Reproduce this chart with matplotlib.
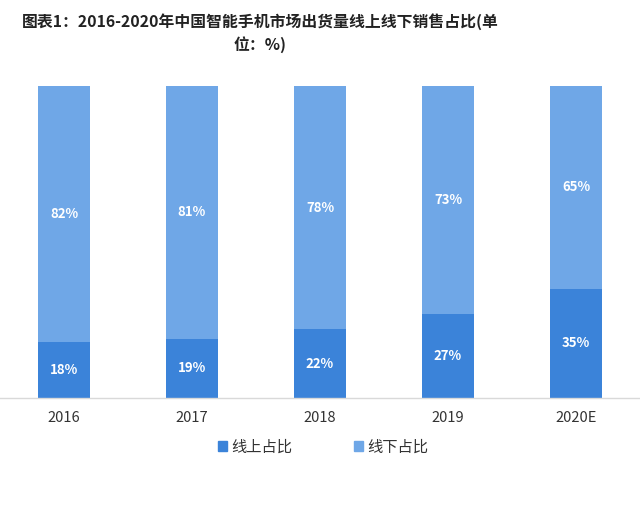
import matplotlib
matplotlib.use("Agg")
import matplotlib.pyplot as plt
from matplotlib.patches import Patch

plt.rcParams['font.family'] = ['Noto Sans CJK SC', 'DejaVu Sans']

categories = ["2016", "2017", "2018", "2019", "2020E"]
online = [18, 19, 22, 27, 35]
offline = [82, 81, 78, 73, 65]
series_names = ["线上占比", "线下占比"]
title = "图表1：2016-2020年中国智能手机市场出货量线上线下销售占比(单\n位：%)"

c_on = "#3b83d9"
c_off = "#6fa7e7"

fig = plt.figure(figsize=(6.4, 5.12), dpi=100)
ax = fig.add_axes([0.0, 1 - 398 / 512, 1.0, (398 - 86) / 512])

x = list(range(len(categories)))
w = 0.41
b1 = ax.bar(x, online, width=w, color=c_on)
b2 = ax.bar(x, offline, width=w, bottom=online, color=c_off)

for i in x:
    ax.text(i, online[i] / 2, f"{online[i]}%", ha="center", va="center",
            color="white", fontsize=9.5, fontweight="bold")
    ax.text(i, online[i] + offline[i] / 2, f"{offline[i]}%", ha="center", va="center",
            color="white", fontsize=9.5, fontweight="bold")

ax.set_xlim(-0.5, 4.5)
ax.set_ylim(0, 100)
ax.set_xticks(x)
ax.set_xticklabels(categories, fontsize=10.5, color="#333333")
ax.tick_params(axis="x", length=0, pad=9)
ax.set_yticks([])
for s in ["top", "right", "left"]:
    ax.spines[s].set_visible(False)
ax.spines["bottom"].set_color("#d9d9d9")
ax.spines["bottom"].set_linewidth(1.0)

handles = [Patch(color=c_on), Patch(color=c_off)]
fig.legend(handles, series_names, loc="center", bbox_to_anchor=(0.505, 1 - 447 / 512),
           ncol=2, frameon=False, fontsize=11, handlelength=0.6, handleheight=0.6,
           columnspacing=4.0, handletextpad=0.3, labelcolor="#333333")

fig.text(260 / 640, 1 - 33 / 512, title, ha="center", va="center",
         fontsize=11.4, fontweight="bold", color="#222222", linespacing=1.4)

fig.savefig("out.png", dpi=100, facecolor="white")
